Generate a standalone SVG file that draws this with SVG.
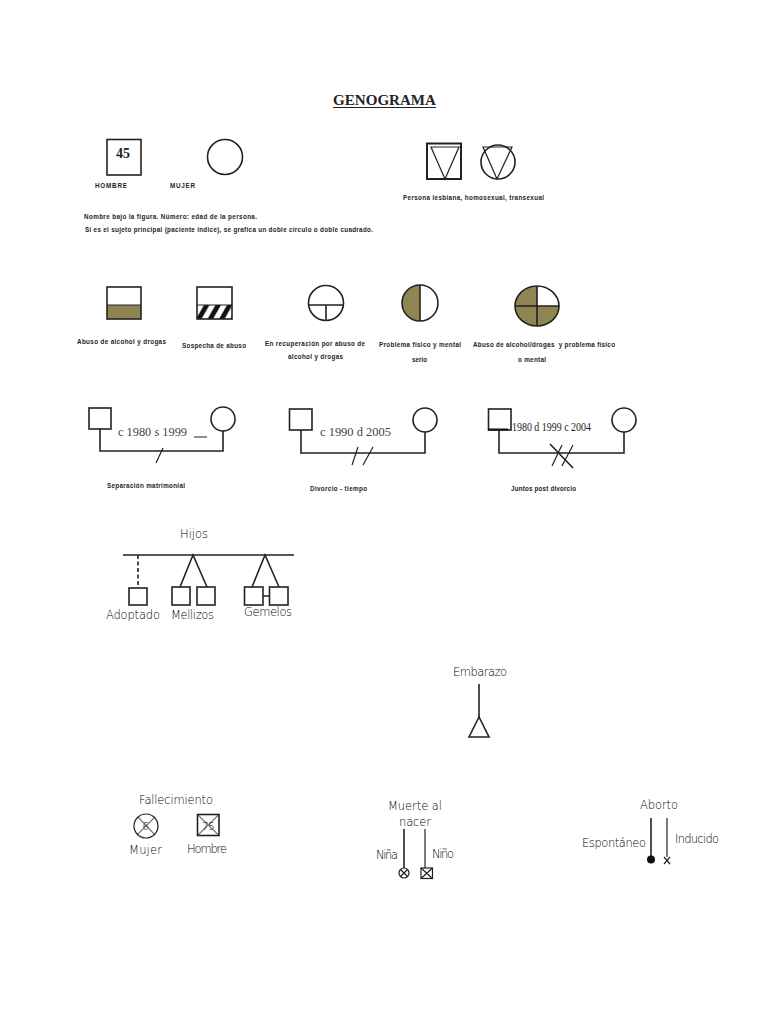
<svg xmlns="http://www.w3.org/2000/svg" width="768" height="1024" viewBox="0 0 768 1024">
<style>
text{opacity:.99}
.s{fill:none;stroke:#222;stroke-width:1.6}
.w{fill:#fff;stroke:#222;stroke-width:1.6}
.t{fill:none;stroke:#222;stroke-width:1.2}
.o{fill:#8f8550}
.b{font-family:"Liberation Sans",Arial,sans-serif;font-weight:bold;font-size:6.3px;fill:#222}
.r{font-family:"Liberation Serif","Times New Roman",serif;fill:#444;font-size:13.500px}
.h{font-family:"DejaVu Sans",sans-serif;font-weight:200;font-size:11.500px;fill:#000}
</style>
<defs>
<pattern id="hatch" width="11.500" height="14" patternUnits="userSpaceOnUse" x="198" y="305">
<polygon points="-2,14 3.500,14 11.500,0 6,0" fill="#111"/>
<polygon points="9.500,14 15,14 23,0 17.500,0" fill="#111"/>
</pattern>
<clipPath id="q"><rect x="537" y="284" width="24" height="22"/></clipPath>
</defs>
<rect width="768" height="1024" fill="#fff"/>

<g id="connectors">
<path class="s" d="M100 429V451H223V431"/>
<path class="t" d="M163 448L156 463M194 437H207"/>
<path class="s" d="M301 430V453H425V432"/>
<path class="t" d="M358 447L352 465M373 447L363 465"/>
<path class="s" d="M499 430V453H624V432"/>
<path class="t" d="M562 445L552 466M573 445L562 466"/>
<path class="s" d="M550 444L573 468"/>
<path class="s" d="M123 555H294"/>
<path class="s" d="M138 555V587" stroke-dasharray="4 2.500"/>
<path class="s" d="M180 587L193 555L207 587M252 587L265 555L279 587M263 596H269"/>
<path class="s" d="M479 684V717"/>
<path class="s" d="M404 829V868"/>
<path class="t" d="M425 829V868"/>
<path class="s" d="M651 818V857"/>
<path class="t" d="M667 818V857"/>
</g>

<g id="title">
<text x="333" y="105" font-family="Liberation Serif,serif" font-weight="bold" font-size="14.500" fill="#222" textLength="103" lengthAdjust="spacingAndGlyphs">GENOGRAMA</text>
<path d="M333 107.500H436" stroke="#222" stroke-width="1"/>
</g>

<g id="hombre">
<rect class="w" x="107" y="139.500" width="34" height="35.500"/>
<text x="116" y="158" font-family="Liberation Serif,serif" font-weight="bold" font-size="14" fill="#222">45</text>
<text class="b" x="95" y="188" textLength="32">HOMBRE</text>
</g>
<g id="mujer">
<circle class="w" cx="225" cy="157" r="17.500"/>
<text class="b" x="170" y="188" textLength="25">MUJER</text>
</g>
<g id="notas">
<text class="b" x="84" y="219" textLength="173">Nombre bajo la figura. Número: edad de la persona.</text>
<text class="b" x="85" y="232" textLength="288">Si es el sujeto principal (paciente índice), se grafica un doble círculo o doble cuadrado.</text>
</g>
<g id="persona-cuadrado">
<rect class="w" x="427" y="143.500" width="34" height="35.500" style="stroke-width:2"/>
<path class="t" d="M431 147H459L445 179Z"/>
</g>
<g id="persona-circulo">
<circle class="w" cx="498" cy="162" r="17"/>
<path class="t" d="M483 147H512L497 179Z"/>
<text class="b" x="403" y="200" textLength="141">Persona lesbiana, homosexual, transexual</text>
</g>

<g id="abuso">
<rect class="o" x="107" y="305" width="34" height="14"/>
<rect class="s" x="107" y="287" width="34" height="32"/>
<path class="t" d="M107 305H141"/>
<text class="b" x="77" y="344" textLength="89">Abuso de alcohol y drogas</text>
</g>
<g id="sospecha">
<rect x="197" y="305" width="35" height="14" fill="url(#hatch)"/>
<rect class="s" x="197" y="287" width="35" height="32"/>
<path class="t" d="M197 305H232"/>
<text class="b" x="182" y="347.500" textLength="64">Sospecha de abuso</text>
</g>
<g id="recuperacion">
<circle class="w" cx="326" cy="303" r="17.500"/>
<path class="s" d="M309 305H343M326 305V320"/>
<text class="b" x="265" y="346" textLength="100">En recuperación por abuso de</text>
<text class="b" x="288" y="359" textLength="55">alcohol y drogas</text>
</g>
<g id="problema">
<path class="o" d="M420 285A18 18 0 0 0 420 321Z"/>
<circle class="s" cx="420" cy="303" r="18"/>
<path class="s" d="M420 285V321"/>
<text class="b" x="379" y="347" textLength="82">Problema físico y mental</text>
<text class="b" x="412" y="362" textLength="15">serio</text>
</g>
<g id="abuso-problema">
<ellipse class="o" cx="537" cy="306" rx="22" ry="20"/>
<ellipse cx="537" cy="306" rx="22" ry="20" fill="#fff" clip-path="url(#q)"/>
<ellipse class="s" cx="537" cy="306" rx="22" ry="20"/>
<path class="s" d="M537 286V326M515 306H559"/>
<text class="b" x="473" y="347" textLength="142" xml:space="preserve">Abuso de alcohol/drogas  y problema físico</text>
<text class="b" x="518" y="362" textLength="28">o mental</text>
</g>

<g id="separacion">
<rect class="w" x="89" y="408" width="22" height="21"/>
<circle class="w" cx="223" cy="419" r="12"/>
<text class="r" x="118" y="436" textLength="69" lengthAdjust="spacingAndGlyphs">c 1980 s 1999</text>
<text class="b" x="107" y="488" textLength="78">Separación matrimonial</text>
</g>
<g id="divorcio">
<rect class="w" x="289.500" y="409" width="22.500" height="21"/>
<circle class="w" cx="425" cy="420" r="12"/>
<text class="r" x="320" y="436" textLength="71" lengthAdjust="spacingAndGlyphs">c 1990 d 2005</text>
<text class="b" x="310" y="491" textLength="57">Divorcio - tiempo</text>
</g>
<g id="juntos">
<rect class="w" x="488.500" y="409" width="22.500" height="21"/>
<path d="M488 429.500H508" stroke="#111" stroke-width="2"/>
<circle class="w" cx="624" cy="420" r="12"/>
<text class="r" x="512" y="431" style="font-size:11.500px;fill:#222" textLength="79" lengthAdjust="spacingAndGlyphs">1980 d 1999 c 2004</text>
<text class="b" x="511" y="491" textLength="65">Juntos post divorcio</text>
</g>

<g id="hijos">
<text class="h" x="180" y="538" textLength="28">Hijos</text>
<rect class="w" x="129" y="588" width="18" height="17"/>
<text class="h" x="106" y="619" textLength="54">Adoptado</text>
</g>
<g id="mellizos">
<rect class="w" x="172" y="587" width="18" height="18"/>
<rect class="w" x="197" y="587" width="18" height="18"/>
<text class="h" x="171" y="619" textLength="43">Mellizos</text>
</g>
<g id="gemelos">
<rect class="w" x="244.500" y="587" width="18.500" height="18"/>
<rect class="w" x="269.500" y="587" width="18.500" height="18"/>
<text class="h" x="244" y="616" textLength="48">Gemelos</text>
</g>

<g id="embarazo">
<text class="h" x="453" y="676" textLength="54">Embarazo</text>
<path class="s" d="M479 717L469 737H489Z"/>
</g>

<g id="fallecimiento">
<text class="h" x="139" y="804" textLength="74">Fallecimiento</text>
<circle class="t" cx="146" cy="826" r="12"/>
<path class="t" d="M138 817L155 835M155 817L137 835" stroke-opacity=".6"/>
<text class="h" x="142.500" y="830" style="font-size:10px">6</text>
<text class="h" x="129" y="854" textLength="33">Mujer</text>
<rect class="s" x="197.500" y="814.500" width="21.500" height="21"/>
<path class="t" d="M197.500 814.500L219 835.500M219 814.500L197.500 835.500" stroke-opacity=".6"/>
<text class="h" x="202" y="830" style="font-size:10px">75</text>
<text class="h" x="187" y="853" textLength="40">Hombre</text>
</g>

<g id="muerte">
<text class="h" x="388" y="810" textLength="54">Muerte al</text>
<text class="h" x="399" y="826" textLength="32">nacer</text>
<text class="h" x="376" y="859" textLength="22">Niña</text>
<circle class="t" cx="404" cy="873" r="5"/>
<path class="t" d="M400.500 869.500L407.500 876.500M407.500 869.500L400.500 876.500"/>
<text class="h" x="432" y="858" textLength="22">Niño</text>
<rect class="t" x="421" y="868" width="11.500" height="10.500"/>
<path class="t" d="M421 868L432.500 878.500M432.500 868L421 878.500"/>
</g>

<g id="aborto">
<text class="h" x="640" y="809" textLength="38">Aborto</text>
<text class="h" x="582" y="847" textLength="64">Espontáneo</text>
<circle cx="651" cy="859.500" r="4" fill="#111"/>
<text class="h" x="675" y="843" textLength="44">Inducido</text>
<path class="t" d="M664 857L670 864M670 857L664 864"/>
</g>
</svg>
